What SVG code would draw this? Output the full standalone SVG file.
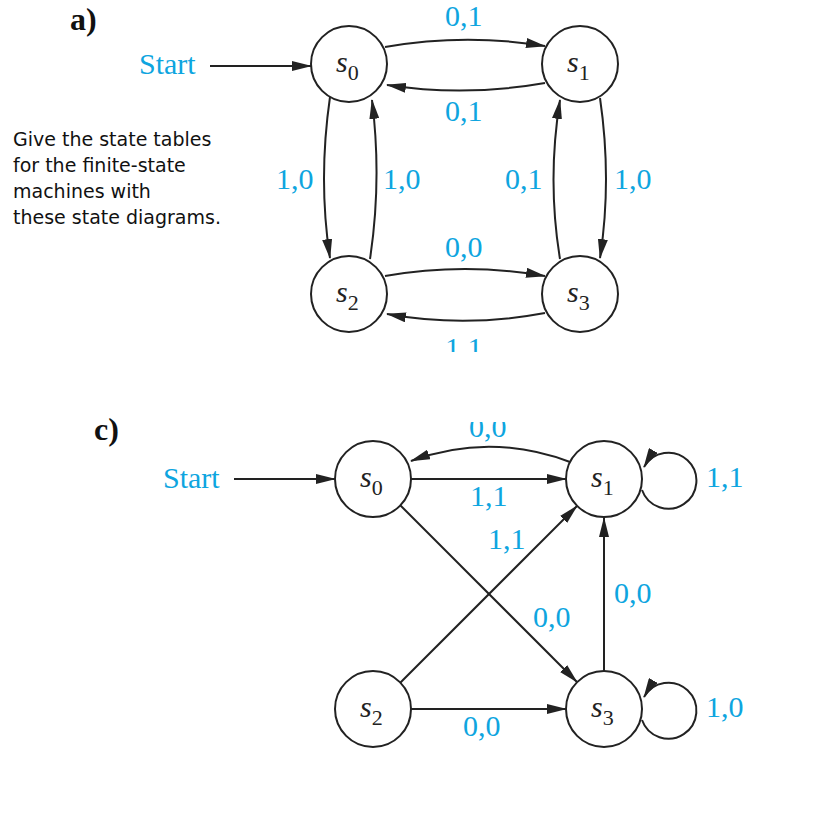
<svg xmlns="http://www.w3.org/2000/svg" width="828" height="840" viewBox="0 0 828 840">
<style>
.n{fill:#fff;stroke:#222;stroke-width:2}
.e{fill:none;stroke:#222;stroke-width:2;marker-end:url(#ah)}
.l{font-family:"Liberation Serif",serif;font-size:30px;fill:#0ea5df}
.s{font-family:"Liberation Serif",serif;font-size:30px;font-style:italic;fill:#222}
.sub{font-style:normal;font-size:22px}
.h{font-family:"Liberation Serif",serif;font-size:32px;font-weight:bold;fill:#111}
.t{font-family:"DejaVu Sans",sans-serif;font-size:19px;fill:#111}
</style>
<defs><marker id="ah" markerWidth="20" markerHeight="10" refX="19" refY="5" orient="auto" markerUnits="userSpaceOnUse"><path d="M0,0 L20,5 L0,10 z" fill="#222"/></marker></defs>
<rect width="828" height="840" fill="#fff"/>
<text class="h" x="70" y="30">a)</text>
<text class="h" x="94" y="440">c)</text>
<text class="l" x="139" y="74">Start</text>
<text class="l" x="163" y="488">Start</text>
<text class="t"><tspan x="13" y="146">Give the state tables</tspan><tspan x="13" y="172">for the finite-state</tspan><tspan x="13" y="198">machines with</tspan><tspan x="13" y="224">these state diagrams.</tspan></text>
<g id="connectors">
<path class="e" d="M210,66 L311,66"/>
<path class="e" d="M385,47 Q465,33 545,46"/>
<path class="e" d="M545,83 Q465,97 387,85"/>
<path class="e" d="M330,97 Q318,180 330,258"/>
<path class="e" d="M370,259 Q382,180 372,100"/>
<path class="e" d="M560,259 Q547,180 560,100"/>
<path class="e" d="M600,98 Q612,180 600,258"/>
<path class="e" d="M385,276 Q465,262 545,276"/>
<path class="e" d="M545,313 Q465,328 387,314"/>
<path class="e" d="M234,479 L335,479"/>
<path class="e" d="M411,479 L566,479"/>
<path class="e" d="M570,462 Q490,432 411,461"/>
<path class="e" d="M642,490 A28,28 0 1,0 644,467"/>
<path class="e" d="M400,505 L577,682"/>
<path class="e" d="M400,683 L577,506"/>
<path class="e" d="M411,709 L566,709"/>
<path class="e" d="M604,671 L604,518"/>
<path class="e" d="M642,720 A28,28 0 1,0 644,697"/>
</g>
<g id="a_s0"><circle class="n" cx="349" cy="64" r="38"/><text class="s" x="336" y="72">s<tspan class="sub" dy="8">0</tspan></text></g>
<g id="a_s1"><circle class="n" cx="580" cy="64" r="38"/><text class="s" x="567" y="72">s<tspan class="sub" dy="8">1</tspan></text></g>
<g id="a_s2"><circle class="n" cx="349" cy="294" r="38"/><text class="s" x="336" y="302">s<tspan class="sub" dy="8">2</tspan></text></g>
<g id="a_s3"><circle class="n" cx="580" cy="294" r="38"/><text class="s" x="567" y="302">s<tspan class="sub" dy="8">3</tspan></text></g>
<g id="c_s0"><circle class="n" cx="373" cy="479" r="38"/><text class="s" x="360" y="487">s<tspan class="sub" dy="8">0</tspan></text></g>
<g id="c_s1"><circle class="n" cx="604" cy="479" r="38"/><text class="s" x="591" y="487">s<tspan class="sub" dy="8">1</tspan></text></g>
<g id="c_s2"><circle class="n" cx="373" cy="709" r="38"/><text class="s" x="360" y="717">s<tspan class="sub" dy="8">2</tspan></text></g>
<g id="c_s3"><circle class="n" cx="604" cy="709" r="38"/><text class="s" x="591" y="717">s<tspan class="sub" dy="8">3</tspan></text></g>
<g id="labels">
<text class="l" x="445" y="26">0,1</text>
<text class="l" x="445" y="121">0,1</text>
<text class="l" x="276" y="189">1,0</text>
<text class="l" x="383" y="189">1,0</text>
<text class="l" x="505" y="189">0,1</text>
<text class="l" x="614" y="189">1,0</text>
<text class="l" x="445" y="257">0,0</text>
<text class="l" x="445" y="358">1.1</text>
<text class="l" x="469" y="437">0,0</text>
<text class="l" x="470" y="506">1,1</text>
<text class="l" x="706" y="487">1,1</text>
<text class="l" x="488" y="549">1,1</text>
<text class="l" x="533" y="627">0,0</text>
<text class="l" x="614" y="603">0,0</text>
<text class="l" x="463" y="736">0,0</text>
<text class="l" x="706" y="717">1,0</text>
</g>
<rect x="400" y="352" width="120" height="70" fill="#fff"/>
</svg>
